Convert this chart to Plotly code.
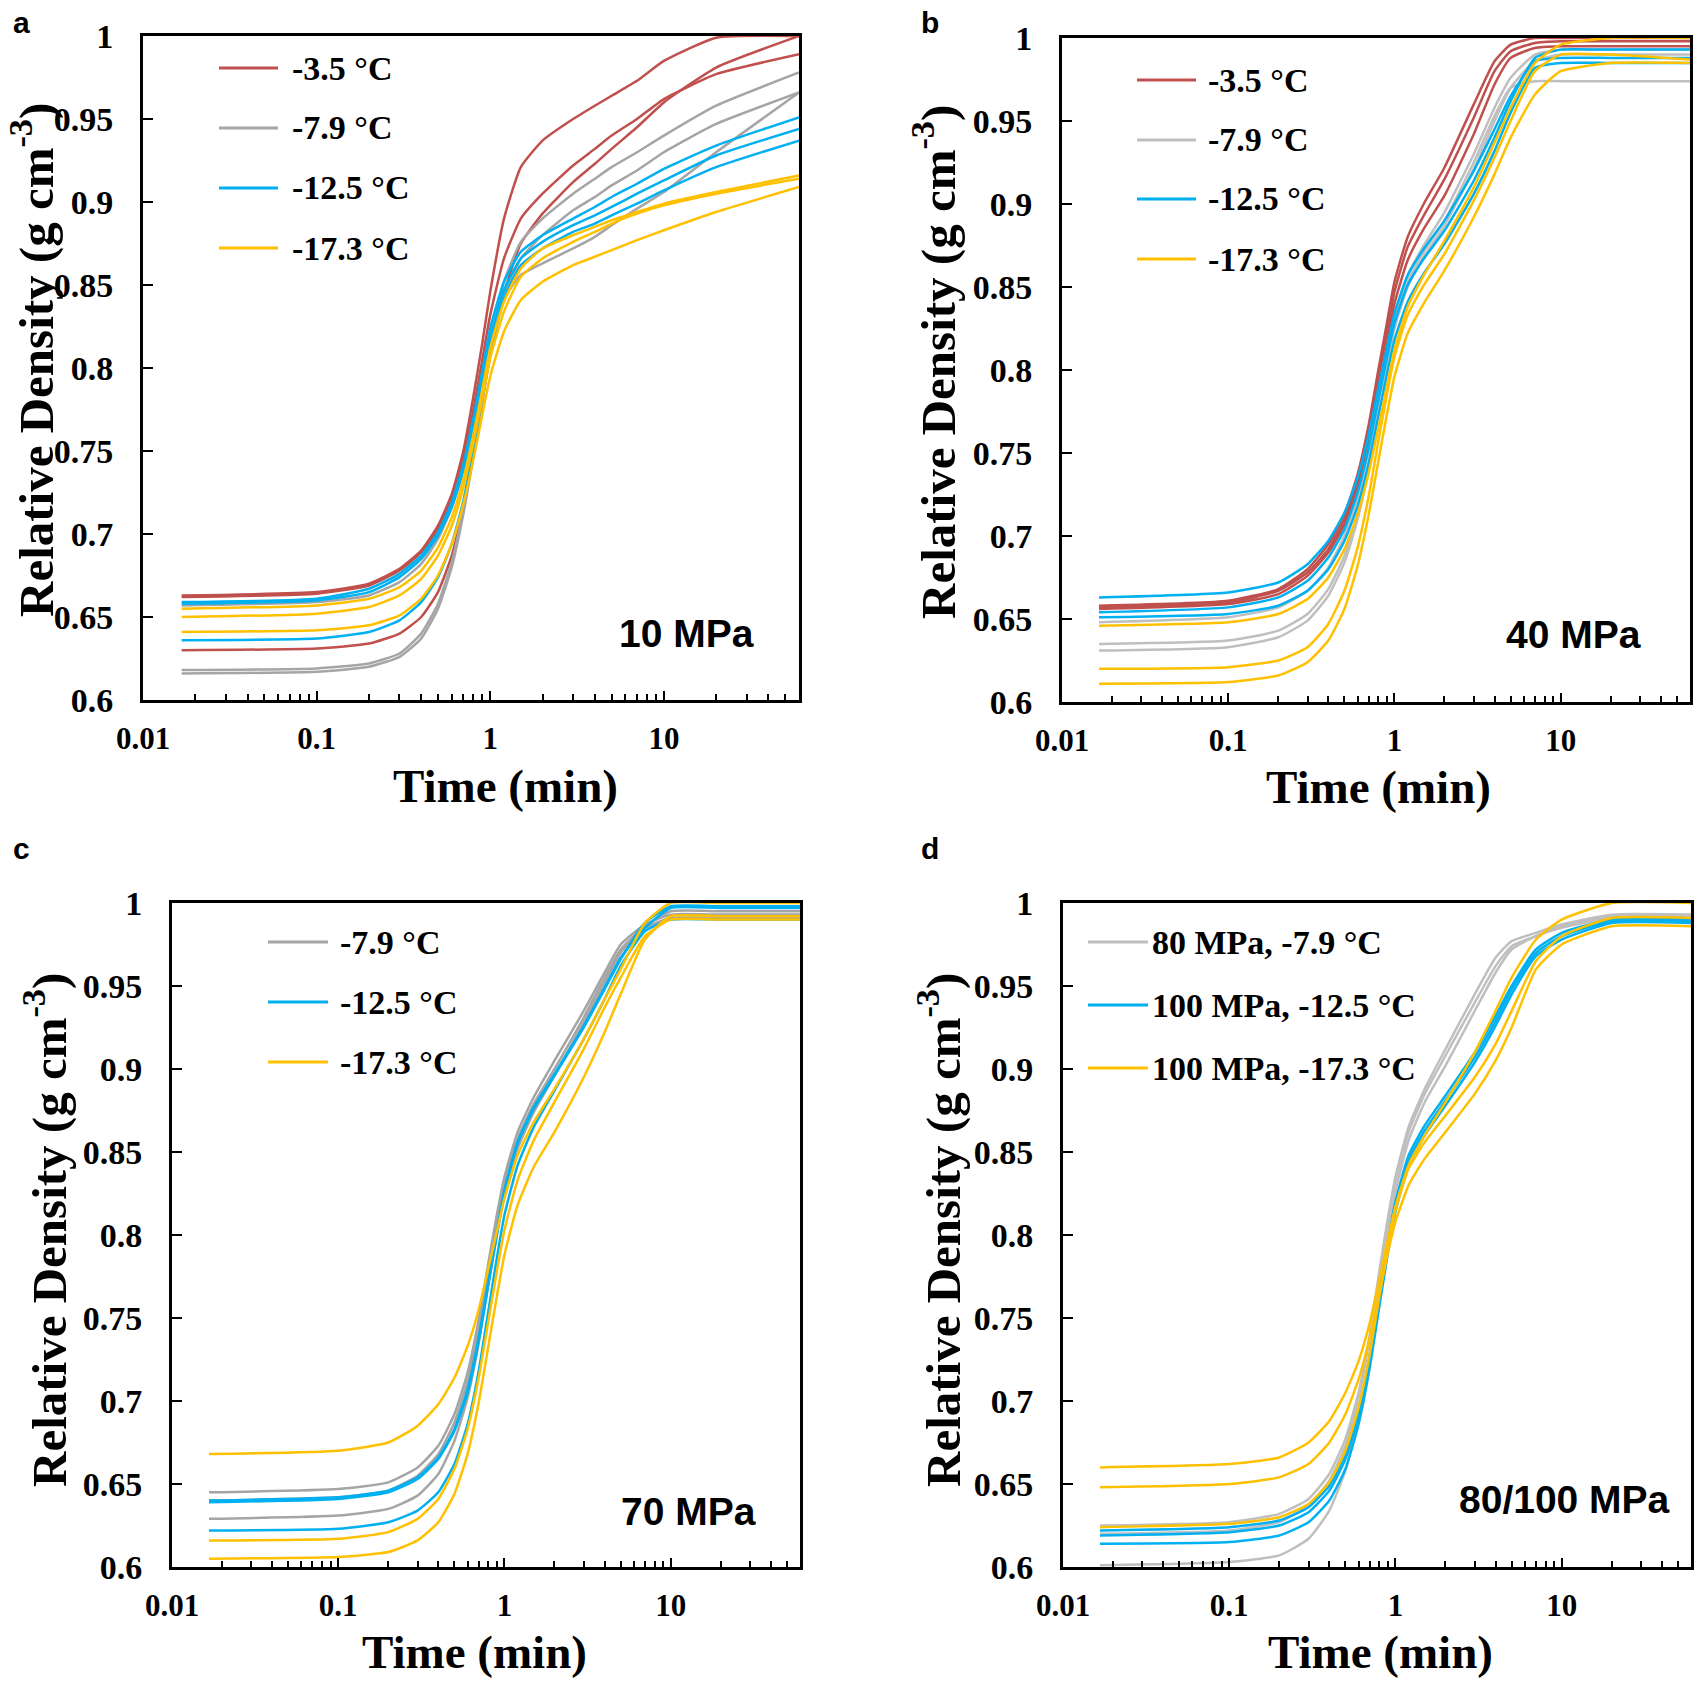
import math
import plotly.graph_objects as go

# ---------------- data ----------------
# common time grid (min)
T = [0.0167, 0.1, 0.2, 0.3, 0.4, 0.5, 0.6, 0.7, 0.8, 0.9, 1.0, 1.2, 1.5, 2, 3, 4, 5, 7, 10, 20, 60]

# panel a : 10 MPa
a_red = [
    [0.663, 0.665, 0.670, 0.679, 0.690, 0.705, 0.724, 0.750, 0.783, 0.815, 0.846, 0.890, 0.921, 0.937, 0.950, 0.958, 0.964, 0.973, 0.985, 0.999, 1.000],
    [0.662, 0.664, 0.669, 0.678, 0.689, 0.703, 0.721, 0.745, 0.775, 0.805, 0.832, 0.866, 0.890, 0.905, 0.922, 0.932, 0.940, 0.950, 0.962, 0.977, 0.989],
    [0.630, 0.631, 0.634, 0.640, 0.650, 0.665, 0.687, 0.715, 0.748, 0.780, 0.808, 0.845, 0.875, 0.893, 0.912, 0.923, 0.932, 0.945, 0.960, 0.981, 1.000],
]
a_gray = [
    [0.618, 0.619, 0.622, 0.628, 0.640, 0.658, 0.683, 0.715, 0.750, 0.785, 0.815, 0.852, 0.876, 0.890, 0.905, 0.914, 0.921, 0.930, 0.940, 0.958, 0.978],
    [0.616, 0.617, 0.620, 0.626, 0.637, 0.655, 0.680, 0.712, 0.747, 0.780, 0.808, 0.843, 0.866, 0.880, 0.895, 0.903, 0.910, 0.919, 0.930, 0.947, 0.966],
    [0.657, 0.659, 0.663, 0.671, 0.682, 0.697, 0.716, 0.740, 0.768, 0.795, 0.818, 0.842, 0.856, 0.863, 0.872, 0.879, 0.886, 0.896, 0.906, 0.930, 0.966],
]
a_blue = [
    [0.659, 0.661, 0.667, 0.676, 0.687, 0.701, 0.719, 0.742, 0.770, 0.798, 0.824, 0.852, 0.870, 0.880, 0.890, 0.897, 0.903, 0.911, 0.920, 0.934, 0.951],
    [0.658, 0.660, 0.665, 0.674, 0.685, 0.699, 0.716, 0.738, 0.765, 0.792, 0.818, 0.847, 0.866, 0.876, 0.886, 0.892, 0.897, 0.905, 0.913, 0.928, 0.944],
    [0.636, 0.637, 0.641, 0.648, 0.659, 0.674, 0.694, 0.720, 0.752, 0.783, 0.810, 0.842, 0.862, 0.872, 0.882, 0.887, 0.892, 0.899, 0.907, 0.921, 0.937],
]
a_yellow = [
    [0.655, 0.657, 0.661, 0.668, 0.678, 0.692, 0.710, 0.733, 0.760, 0.787, 0.812, 0.840, 0.860, 0.872, 0.880, 0.885, 0.889, 0.894, 0.899, 0.906, 0.916],
    [0.650, 0.652, 0.656, 0.663, 0.673, 0.687, 0.705, 0.728, 0.755, 0.782, 0.806, 0.834, 0.855, 0.866, 0.876, 0.882, 0.887, 0.893, 0.898, 0.905, 0.914],
    [0.641, 0.642, 0.645, 0.651, 0.661, 0.675, 0.694, 0.718, 0.745, 0.772, 0.795, 0.822, 0.841, 0.852, 0.862, 0.867, 0.871, 0.877, 0.883, 0.894, 0.909],
]

# panel b : 40 MPa
b_red = [
    [0.658, 0.661, 0.668, 0.680, 0.695, 0.713, 0.737, 0.767, 0.800, 0.828, 0.853, 0.880, 0.900, 0.922, 0.960, 0.986, 0.996, 1.000, 1.000, 1.000, 1.000],
    [0.657, 0.660, 0.667, 0.678, 0.692, 0.710, 0.733, 0.762, 0.795, 0.822, 0.847, 0.874, 0.893, 0.915, 0.952, 0.980, 0.992, 0.997, 0.998, 0.998, 0.998],
    [0.656, 0.659, 0.665, 0.676, 0.690, 0.707, 0.729, 0.757, 0.788, 0.815, 0.840, 0.866, 0.885, 0.905, 0.942, 0.972, 0.988, 0.994, 0.995, 0.995, 0.995],
]
b_gray = [
    [0.648, 0.651, 0.657, 0.667, 0.681, 0.700, 0.723, 0.752, 0.783, 0.810, 0.832, 0.857, 0.875, 0.895, 0.930, 0.958, 0.976, 0.990, 0.993, 0.993, 0.993],
    [0.635, 0.637, 0.643, 0.653, 0.668, 0.688, 0.713, 0.744, 0.777, 0.805, 0.828, 0.853, 0.871, 0.890, 0.925, 0.953, 0.970, 0.974, 0.974, 0.974, 0.974],
    [0.631, 0.633, 0.639, 0.649, 0.664, 0.684, 0.710, 0.741, 0.774, 0.802, 0.825, 0.850, 0.868, 0.887, 0.921, 0.950, 0.970, 0.986, 0.990, 0.990, 0.990],
]
b_blue = [
    [0.663, 0.666, 0.672, 0.683, 0.697, 0.714, 0.735, 0.761, 0.789, 0.813, 0.834, 0.857, 0.873, 0.890, 0.920, 0.945, 0.965, 0.986, 0.988, 0.988, 0.988],
    [0.654, 0.657, 0.663, 0.673, 0.687, 0.704, 0.726, 0.753, 0.782, 0.807, 0.828, 0.851, 0.867, 0.884, 0.914, 0.940, 0.962, 0.988, 0.993, 0.993, 0.993],
    [0.651, 0.653, 0.658, 0.667, 0.680, 0.697, 0.718, 0.744, 0.772, 0.797, 0.818, 0.841, 0.858, 0.876, 0.906, 0.932, 0.955, 0.982, 0.985, 0.985, 0.985],
]
b_yellow = [
    [0.646, 0.648, 0.653, 0.662, 0.675, 0.692, 0.713, 0.738, 0.765, 0.790, 0.812, 0.838, 0.857, 0.878, 0.910, 0.937, 0.958, 0.985, 0.996, 1.000, 1.000],
    [0.620, 0.621, 0.625, 0.633, 0.647, 0.667, 0.693, 0.724, 0.757, 0.785, 0.808, 0.833, 0.851, 0.870, 0.902, 0.928, 0.950, 0.980, 0.990, 0.990, 0.987],
    [0.611, 0.612, 0.616, 0.624, 0.637, 0.656, 0.682, 0.713, 0.745, 0.773, 0.796, 0.822, 0.840, 0.860, 0.892, 0.918, 0.940, 0.966, 0.980, 0.985, 0.985],
]

# panel c : 70 MPa
c_gray = [
    [0.645, 0.647, 0.651, 0.660, 0.673, 0.692, 0.717, 0.749, 0.783, 0.812, 0.835, 0.862, 0.883, 0.905, 0.935, 0.958, 0.975, 0.987, 0.993, 0.993, 0.993],
    [0.640, 0.642, 0.646, 0.655, 0.668, 0.687, 0.712, 0.744, 0.778, 0.808, 0.831, 0.858, 0.879, 0.900, 0.931, 0.955, 0.972, 0.986, 0.995, 0.995, 0.995],
    [0.629, 0.631, 0.635, 0.643, 0.656, 0.676, 0.702, 0.735, 0.770, 0.800, 0.824, 0.852, 0.874, 0.896, 0.928, 0.952, 0.970, 0.985, 0.991, 0.991, 0.991],
]
c_blue = [
    [0.639, 0.641, 0.645, 0.653, 0.665, 0.682, 0.705, 0.736, 0.770, 0.800, 0.826, 0.855, 0.876, 0.896, 0.925, 0.948, 0.966, 0.988, 0.998, 0.998, 0.998],
    [0.640, 0.642, 0.646, 0.654, 0.666, 0.683, 0.707, 0.738, 0.772, 0.802, 0.827, 0.856, 0.877, 0.897, 0.926, 0.949, 0.967, 0.985, 0.997, 0.997, 0.997],
    [0.622, 0.623, 0.627, 0.634, 0.645, 0.662, 0.686, 0.718, 0.754, 0.786, 0.812, 0.842, 0.865, 0.887, 0.918, 0.942, 0.962, 0.983, 0.990, 0.990, 0.990],
]
c_yellow = [
    [0.668, 0.670, 0.675, 0.685, 0.698, 0.714, 0.733, 0.755, 0.780, 0.802, 0.822, 0.848, 0.868, 0.888, 0.918, 0.942, 0.960, 0.988, 1.000, 1.000, 1.000],
    [0.616, 0.617, 0.621, 0.629, 0.641, 0.659, 0.683, 0.714, 0.748, 0.778, 0.803, 0.833, 0.857, 0.880, 0.912, 0.937, 0.955, 0.980, 0.990, 0.990, 0.990],
    [0.605, 0.606, 0.609, 0.616, 0.627, 0.644, 0.668, 0.699, 0.733, 0.763, 0.788, 0.818, 0.841, 0.862, 0.895, 0.922, 0.945, 0.978, 0.992, 0.992, 0.992],
]

# panel d : 80 / 100 MPa
d_gray = [
    [0.625, 0.627, 0.632, 0.641, 0.656, 0.677, 0.705, 0.740, 0.778, 0.810, 0.835, 0.865, 0.888, 0.912, 0.945, 0.967, 0.977, 0.982, 0.987, 0.993, 0.993],
    [0.620, 0.622, 0.627, 0.637, 0.652, 0.673, 0.702, 0.738, 0.776, 0.808, 0.832, 0.862, 0.885, 0.908, 0.940, 0.962, 0.974, 0.980, 0.986, 0.992, 0.992],
    [0.601, 0.603, 0.607, 0.617, 0.634, 0.658, 0.690, 0.728, 0.768, 0.800, 0.826, 0.857, 0.880, 0.902, 0.935, 0.958, 0.972, 0.980, 0.985, 0.991, 0.991],
]
d_blue = [
    [0.622, 0.624, 0.628, 0.636, 0.649, 0.668, 0.694, 0.727, 0.763, 0.795, 0.820, 0.848, 0.866, 0.884, 0.910, 0.932, 0.950, 0.972, 0.982, 0.990, 0.990],
    [0.619, 0.621, 0.625, 0.633, 0.646, 0.665, 0.691, 0.724, 0.760, 0.792, 0.817, 0.845, 0.863, 0.881, 0.907, 0.929, 0.948, 0.970, 0.980, 0.989, 0.989],
    [0.614, 0.615, 0.619, 0.627, 0.640, 0.659, 0.686, 0.720, 0.757, 0.789, 0.814, 0.842, 0.860, 0.878, 0.904, 0.926, 0.945, 0.968, 0.978, 0.988, 0.988],
]
d_yellow = [
    [0.660, 0.662, 0.666, 0.675, 0.688, 0.705, 0.724, 0.747, 0.773, 0.797, 0.817, 0.842, 0.860, 0.880, 0.910, 0.935, 0.955, 0.978, 0.990, 1.000, 1.000],
    [0.648, 0.650, 0.654, 0.662, 0.675, 0.692, 0.713, 0.738, 0.765, 0.789, 0.808, 0.830, 0.846, 0.862, 0.885, 0.905, 0.925, 0.960, 0.975, 0.986, 0.986],
    [0.624, 0.626, 0.630, 0.638, 0.651, 0.670, 0.696, 0.728, 0.763, 0.792, 0.815, 0.840, 0.856, 0.872, 0.895, 0.915, 0.935, 0.965, 0.980, 0.991, 0.991],
]

legend_a = ["-3.5 °C", "-7.9 °C", "-12.5 °C", "-17.3 °C"]
legend_c = ["-7.9 °C", "-12.5 °C", "-17.3 °C"]
legend_d = ["80 MPa, -7.9 °C", "100 MPa, -12.5 °C", "100 MPa, -17.3 °C"]
pressure_labels = ["10 MPa", "40 MPa", "70 MPa", "80/100 MPa"]
panel_letters = ["a", "b", "c", "d"]

x_major = [0.01, 0.1, 1, 10]
x_major_text = ["0.01", "0.1", "1", "10"]
x_minor = [m * 10 ** e for e in (-2, -1, 0, 1) for m in range(2, 10) if m * 10 ** e <= 60]
y_ticks = [0.6, 0.65, 0.7, 0.75, 0.8, 0.85, 0.9, 0.95, 1.0]
y_text = ["0.6", "0.65", "0.7", "0.75", "0.8", "0.85", "0.9", "0.95", "1"]

# ---------------- style ----------------
W, H = 1705, 1690
RED = "#C0504D"
GRAY_DARK = "#A5A5A5"
GRAY_LIGHT = "#BFBFBF"
BLUE = "#00B0F0"
YELLOW = "#FFC000"
SERIF = "Liberation Serif"
SANS = "Liberation Sans"


def px(x):
    return x / W


def py(y):
    return 1 - y / H


fig = go.Figure()

# panel geometry in pixels: left, right, top, bottom
panels = {
    "a": (143, 799, 36, 700),
    "b": (1062, 1690, 38, 702),
    "c": (172, 800, 903, 1567),
    "d": (1063, 1691, 903, 1567),
}
axis_ids = {"a": ("x", "y", ""), "b": ("x2", "y2", "2"), "c": ("x3", "y3", "3"), "d": ("x4", "y4", "4")}

series = {
    "a": [(a_red, RED), (a_gray, GRAY_DARK), (a_blue, BLUE), (a_yellow, YELLOW)],
    "b": [(b_red, RED), (b_gray, GRAY_LIGHT), (b_blue, BLUE), (b_yellow, YELLOW)],
    "c": [(c_gray, GRAY_DARK), (c_blue, BLUE), (c_yellow, YELLOW)],
    "d": [(d_gray, GRAY_LIGHT), (d_blue, BLUE), (d_yellow, YELLOW)],
}

for key, groups in series.items():
    xa, ya, _ = axis_ids[key]
    for curves, col in groups:
        for ys in curves:
            fig.add_trace(go.Scatter(
                x=T, y=ys, mode="lines", xaxis=xa, yaxis=ya, showlegend=False,
                line=dict(color=col, width=2.5, shape="spline", smoothing=0.5),
                hoverinfo="skip",
            ))

xtickfont = dict(family=SERIF, size=31, color="black", weight="bold")
ytickfont = dict(family=SERIF, size=34, color="black", weight="bold")
layout = dict(
    width=W, height=H, margin=dict(l=0, r=0, t=0, b=0),
    paper_bgcolor="white", plot_bgcolor="white", template="none",
    showlegend=False,
)

for key, (l, r, t, b) in panels.items():
    xa, ya, suf = axis_ids[key]
    layout["xaxis" + suf] = dict(
        type="log", range=[-2, math.log10(60)], domain=[px(l), px(r)], anchor=ya,
        showline=True, linecolor="black", linewidth=3, mirror=True,
        ticks="inside", ticklen=9, tickwidth=2, tickcolor="black",
        tickmode="array", tickvals=x_major, ticktext=x_major_text,
        minor=dict(ticks="inside", ticklen=6, tickwidth=2, tickcolor="black",
                   tickmode="array", tickvals=x_minor, showgrid=False),
        showgrid=False, zeroline=False, tickfont=xtickfont, ticklabelstandoff=9,
        fixedrange=True,
    )
    layout["yaxis" + suf] = dict(
        range=[0.6, 1.0], domain=[py(b), py(t)], anchor=xa,
        showline=True, linecolor="black", linewidth=3, mirror=True,
        ticks="inside", ticklen=10, tickwidth=2, tickcolor="black",
        tickmode="array", tickvals=y_ticks, ticktext=y_text,
        showgrid=False, zeroline=False, tickfont=ytickfont, ticklabelstandoff=20,
        fixedrange=True,
    )

annotations = []
shapes = []

# axis titles
ytitle = "Relative Density (g cm<sup>-3</sup>)"
xtitle = "Time (min)"
ytitle_font = dict(family=SERIF, size=49, color="black", weight="bold")
xtitle_font = dict(family=SERIF, size=47, color="black", weight="bold")
ytitle_pos = {"a": (33, 360), "b": (935, 362), "c": (45, 1230), "d": (939, 1230)}
xtitle_pos = {"a": (506, 786), "b": (1378, 787), "c": (475, 1652), "d": (1380, 1652)}
for key in panels:
    x0, y0 = ytitle_pos[key]
    annotations.append(dict(text=ytitle, x=px(x0), y=py(y0), xref="paper", yref="paper",
                            xanchor="center", yanchor="middle", textangle=-90,
                            showarrow=False, font=ytitle_font))
    x0, y0 = xtitle_pos[key]
    annotations.append(dict(text=xtitle, x=px(x0), y=py(y0), xref="paper", yref="paper",
                            xanchor="center", yanchor="middle",
                            showarrow=False, font=xtitle_font))

# panel letters
letter_pos = {"a": (21, 22), "b": (930, 22), "c": (21, 848), "d": (930, 848)}
for key, lab in zip(panels, panel_letters):
    x0, y0 = letter_pos[key]
    annotations.append(dict(text=lab, x=px(x0), y=py(y0), xref="paper", yref="paper",
                            xanchor="center", yanchor="middle", showarrow=False,
                            font=dict(family=SANS, size=30, color="black", weight="bold")))

# pressure labels
press_pos = {"a": (686, 633), "b": (1573, 634), "c": (688, 1511), "d": (1564, 1499)}
for key, lab in zip(panels, pressure_labels):
    x0, y0 = press_pos[key]
    annotations.append(dict(text=lab, x=px(x0), y=py(y0), xref="paper", yref="paper",
                            xanchor="center", yanchor="middle", showarrow=False,
                            font=dict(family=SANS, size=39, color="black", weight="bold")))

# manual legends: (line x0, line x1, text x, row ys, labels, colors)
legend_font = dict(family=SERIF, size=34, color="black", weight="bold")
legends = [
    (219, 278, 290, [68, 128, 188, 248], legend_a, [RED, GRAY_DARK, BLUE, YELLOW]),
    (1137, 1196, 1206, [80, 140, 199, 259], legend_a, [RED, GRAY_LIGHT, BLUE, YELLOW]),
    (268, 328, 338, [942, 1002, 1062], legend_c, [GRAY_DARK, BLUE, YELLOW]),
    (1088, 1148, 1150, [942, 1005, 1068], legend_d, [GRAY_LIGHT, BLUE, YELLOW]),
]
for lx0, lx1, tx, rows, labels, cols in legends:
    for yy, lab, col in zip(rows, labels, cols):
        shapes.append(dict(type="line", xref="paper", yref="paper",
                           x0=px(lx0), x1=px(lx1), y0=py(yy), y1=py(yy),
                           line=dict(color=col, width=3)))
        annotations.append(dict(text=lab, x=px(tx), y=py(yy), xref="paper", yref="paper",
                                xanchor="left", yanchor="middle", showarrow=False,
                                font=legend_font))

layout["annotations"] = annotations
layout["shapes"] = shapes
fig.update_layout(**layout)
fig.write_html("out.html")
